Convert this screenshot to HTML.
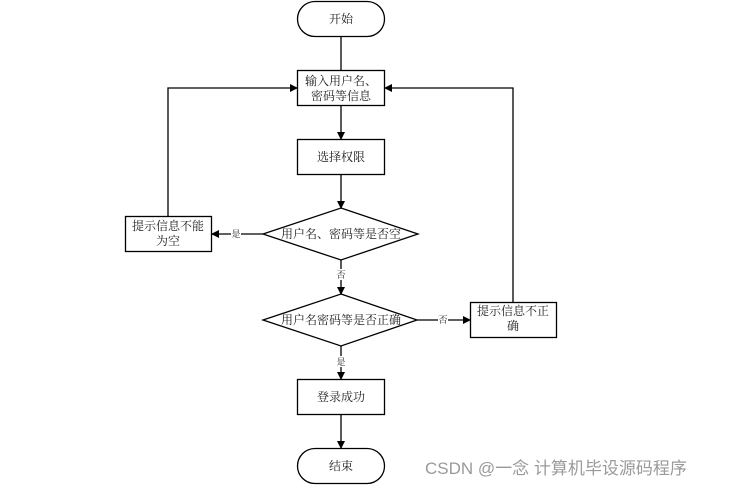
<!DOCTYPE html>
<html><head><meta charset="utf-8"><style>
body{margin:0;background:#fff;}
svg text{font-family:"Liberation Serif","Noto Serif CJK SC","Noto Sans CJK SC",serif;fill:#222;}
</style></head><body>
<svg width="738" height="487" viewBox="0 0 738 487" xmlns="http://www.w3.org/2000/svg">
<defs><marker id="a" markerWidth="8" markerHeight="8" refX="7" refY="4" orient="auto" markerUnits="userSpaceOnUse"><path d="M0,0 L8,4 L0,8 z" fill="#000"/></marker></defs>
<g stroke="#000" stroke-width="1.3" fill="none">
<rect x="297.5" y="1.5" width="87" height="35" rx="17.5" fill="#fff"/>
<rect x="297.5" y="70.5" width="87" height="35" fill="#fff"/>
<rect x="297.5" y="139.5" width="87" height="35" fill="#fff"/>
<polygon points="341,208 418,234 341,260 263,234" fill="#fff"/>
<rect x="125.5" y="216.5" width="86" height="35" fill="#fff"/>
<polygon points="341,294 417,320 341,346 263,320" fill="#fff"/>
<rect x="470.5" y="302.5" width="86" height="35" fill="#fff"/>
<rect x="297.5" y="379.5" width="87" height="35" fill="#fff"/>
<rect x="297.5" y="448.5" width="87" height="35" rx="17.5" fill="#fff"/>
<line x1="341" y1="36" x2="341" y2="70"/>
<line x1="341" y1="105" x2="341" y2="139" marker-end="url(#a)"/>
<line x1="341" y1="174" x2="341" y2="208" marker-end="url(#a)"/>
<line x1="263" y1="234" x2="212" y2="234" marker-end="url(#a)"/>
<polyline points="168,216 168,88 297,88" marker-end="url(#a)"/>
<line x1="341" y1="260" x2="341" y2="294" marker-end="url(#a)"/>
<line x1="417" y1="320" x2="470" y2="320" marker-end="url(#a)"/>
<polyline points="513,302 513,88 385,88" marker-end="url(#a)"/>
<line x1="341" y1="346" x2="341" y2="379" marker-end="url(#a)"/>
<line x1="341" y1="414" x2="341" y2="448" marker-end="url(#a)"/>
</g>
<g font-size="12" text-anchor="middle">
<text x="341" y="23">开始</text>
<text x="341" y="85">输入用户名、</text>
<text x="341" y="100">密码等信息</text>
<text x="341" y="161">选择权限</text>
<text x="341" y="238">用户名、密码等是否空</text>
<text x="168" y="230">提示信息不能</text>
<text x="168" y="245">为空</text>
<text x="341" y="324">用户名密码等是否正确</text>
<text x="513" y="315">提示信息不正</text>
<text x="513" y="330">确</text>
<text x="341" y="401">登录成功</text>
<text x="341" y="470">结束</text>
</g>
<g font-size="9" text-anchor="middle">
<rect x="231" y="228" width="10" height="11" fill="#fff"/><text x="236" y="237">是</text>
<rect x="336" y="269" width="10" height="11" fill="#fff"/><text x="341" y="278">否</text>
<rect x="438" y="314" width="10" height="11" fill="#fff"/><text x="443" y="323">否</text>
<rect x="336" y="356" width="10" height="11" fill="#fff"/><text x="341" y="365">是</text>
</g>
<text x="425" y="474" font-size="17" style="font-family:'Liberation Sans','Noto Sans CJK SC',sans-serif;fill:#9a9a9a">CSDN @一念 计算机毕设源码程序</text>
</svg>
</body></html>
